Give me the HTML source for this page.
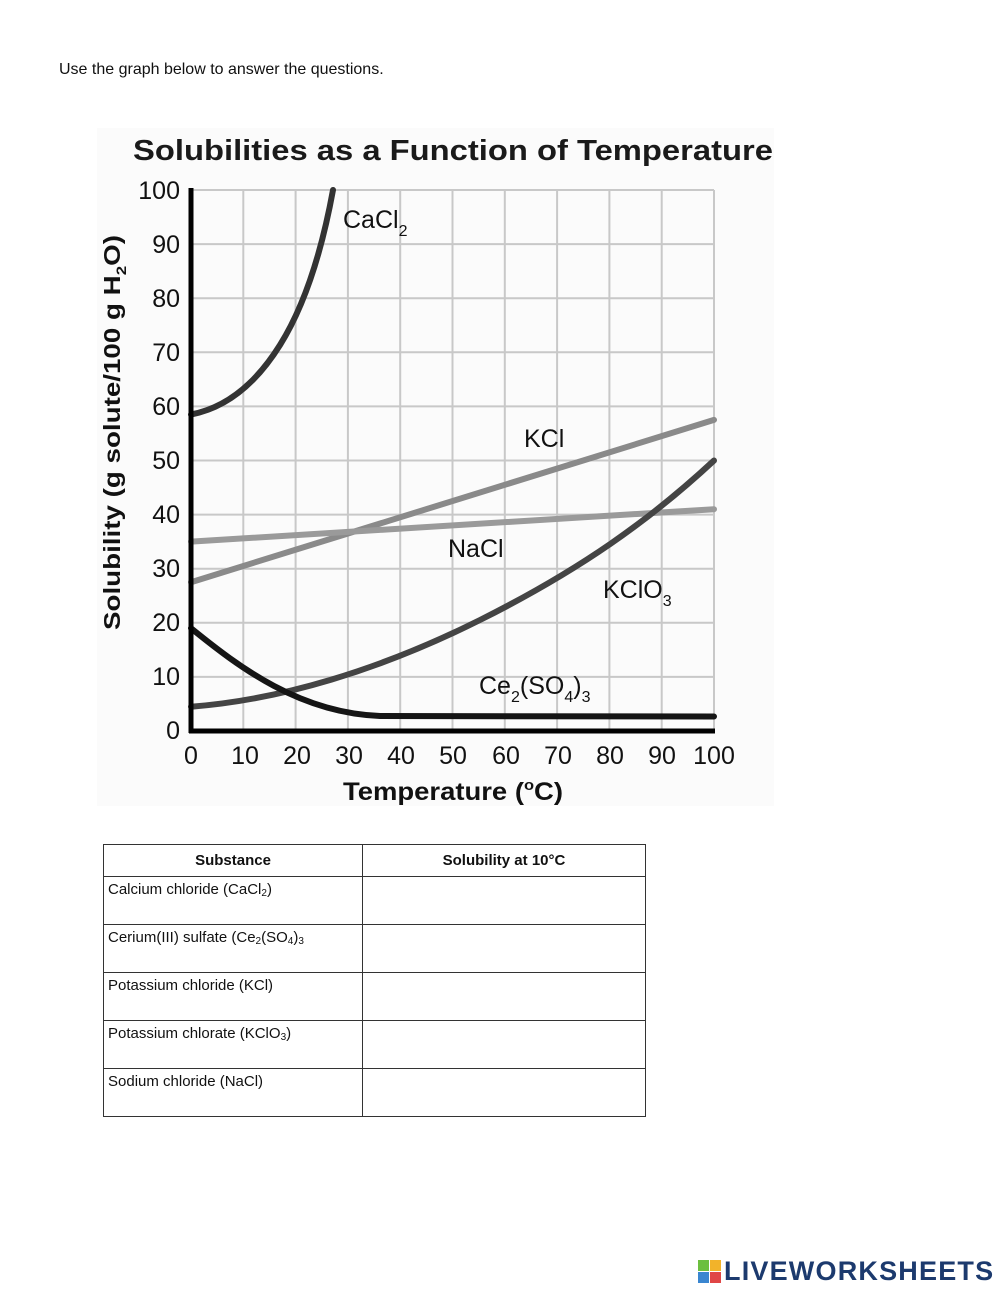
<!DOCTYPE html>
<html><head><meta charset="utf-8"><style>
body{margin:0;background:#fff;width:1000px;height:1291px;position:relative;font-family:"Liberation Sans",Arial,sans-serif;}
.intro{position:absolute;left:59px;top:61px;font-size:16px;color:#111;}
table{position:absolute;left:103px;top:844px;border-collapse:collapse;width:543px;}
td,th{border:1px solid #333;font-size:15px;vertical-align:top;padding:4px 4px;text-align:left;font-weight:normal;color:#111}
th{font-weight:bold;text-align:center;height:27px;vertical-align:middle;padding:2px}
td{height:39px}
sub{font-size:10px;vertical-align:-2px;line-height:0}
.logo{position:absolute;left:724px;top:1256px;font-size:27px;font-weight:bold;color:#1c3a6e;letter-spacing:1.2px}
</style></head><body>
<div class="intro">Use the graph below to answer the questions.</div>
<svg style="position:absolute;left:0;top:0" width="1000" height="820">
<rect x="97" y="128" width="677" height="678" fill="#fbfbfb"/>
<text x="133" y="160" font-size="29" font-weight="bold" fill="#1a1a1a" textLength="640" lengthAdjust="spacingAndGlyphs">Solubilities as a Function of Temperature</text>
<g stroke="#c8c8c8" stroke-width="2">
<line x1="243.3" y1="190" x2="243.3" y2="731"/><line x1="295.6" y1="190" x2="295.6" y2="731"/><line x1="347.9" y1="190" x2="347.9" y2="731"/><line x1="400.2" y1="190" x2="400.2" y2="731"/><line x1="452.5" y1="190" x2="452.5" y2="731"/><line x1="504.8" y1="190" x2="504.8" y2="731"/><line x1="557.1" y1="190" x2="557.1" y2="731"/><line x1="609.4" y1="190" x2="609.4" y2="731"/><line x1="661.7" y1="190" x2="661.7" y2="731"/><line x1="714" y1="190" x2="714" y2="731"/>
<line x1="191" y1="190" x2="714" y2="190"/><line x1="191" y1="244.1" x2="714" y2="244.1"/><line x1="191" y1="298.2" x2="714" y2="298.2"/><line x1="191" y1="352.3" x2="714" y2="352.3"/><line x1="191" y1="406.4" x2="714" y2="406.4"/><line x1="191" y1="460.5" x2="714" y2="460.5"/><line x1="191" y1="514.6" x2="714" y2="514.6"/><line x1="191" y1="568.7" x2="714" y2="568.7"/><line x1="191" y1="622.8" x2="714" y2="622.8"/><line x1="191" y1="676.9" x2="714" y2="676.9"/>
</g>
<g fill="none" stroke-linecap="round" stroke-width="6">
<line x1="191" y1="582.2" x2="714" y2="419.9" stroke="#8a8a8a"/>
<line x1="191" y1="541.6" x2="714" y2="509.2" stroke="#9a9a9a"/>
<path d="M191,414.5 C225,408 255,385 280,345 C305,305 322,250 333,190" stroke="#333"/>
<path d="M191,706.7 C280,700 380,670 480,620 C580,570 650,520 714,460.5" stroke="#444"/>
<path d="M191,628.2 C240,668 300,713 380,716 L714,716.5" stroke="#151515"/>
</g>
<line x1="191" y1="188" x2="191" y2="733" stroke="#000" stroke-width="5"/>
<line x1="189" y1="731" x2="715" y2="731" stroke="#000" stroke-width="5"/>
<g font-size="25" fill="#111" text-anchor="end">
<text x="180" y="199">100</text><text x="180" y="253">90</text><text x="180" y="307">80</text><text x="180" y="361">70</text><text x="180" y="415">60</text><text x="180" y="469">50</text><text x="180" y="523">40</text><text x="180" y="577">30</text><text x="180" y="631">20</text><text x="180" y="685">10</text><text x="180" y="739">0</text>
</g>
<g font-size="25" fill="#111" text-anchor="middle">
<text x="191" y="764">0</text><text x="245" y="764">10</text><text x="297" y="764">20</text><text x="349" y="764">30</text><text x="401" y="764">40</text><text x="453" y="764">50</text><text x="506" y="764">60</text><text x="558" y="764">70</text><text x="610" y="764">80</text><text x="662" y="764">90</text><text x="714" y="764">100</text>
</g>
<text x="343" y="800" font-size="25" font-weight="bold" fill="#111" textLength="220" lengthAdjust="spacingAndGlyphs">Temperature (<tspan font-size="15" dy="-10">o</tspan><tspan dy="10">C)</tspan></text>
<text transform="translate(120,630) rotate(-90)" font-size="23" font-weight="bold" fill="#111" textLength="395" lengthAdjust="spacingAndGlyphs">Solubility (g solute/100 g H<tspan font-size="14" dy="6">2</tspan><tspan dy="-6">O)</tspan></text>
<g font-size="25" fill="#111">
<text x="343" y="228">CaCl<tspan font-size="16" dy="8">2</tspan></text>
<text x="524" y="447">KCl</text>
<text x="448" y="557">NaCl</text>
<text x="603" y="598">KClO<tspan font-size="16" dy="8">3</tspan></text>
<text x="479" y="694">Ce<tspan font-size="16" dy="8">2</tspan><tspan dy="-8">(SO</tspan><tspan font-size="16" dy="8">4</tspan><tspan dy="-8">)</tspan><tspan font-size="16" dy="8">3</tspan></text>
</g>
</svg>
<table>
<tr><th style="width:254px">Substance</th><th>Solubility at 10°C</th></tr>
<tr><td>Calcium chloride (CaCl<sub>2</sub>)</td><td></td></tr>
<tr><td>Cerium(III) sulfate (Ce<sub>2</sub>(SO<sub>4</sub>)<sub>3</sub></td><td></td></tr>
<tr><td>Potassium chloride (KCl)</td><td></td></tr>
<tr><td>Potassium chlorate (KClO<sub>3</sub>)</td><td></td></tr>
<tr><td>Sodium chloride (NaCl)</td><td></td></tr>
</table>
<div style="position:absolute;left:698px;top:1260px;width:24px;height:24px">
<div style="position:absolute;left:0;top:0;width:11px;height:11px;background:#6cbf3f"></div>
<div style="position:absolute;left:12px;top:0;width:11px;height:11px;background:#f2b32a"></div>
<div style="position:absolute;left:0;top:12px;width:11px;height:11px;background:#3a86d0"></div>
<div style="position:absolute;left:12px;top:12px;width:11px;height:11px;background:#e04646"></div>
</div>
<div class="logo">LIVEWORKSHEETS</div>
</body></html>
